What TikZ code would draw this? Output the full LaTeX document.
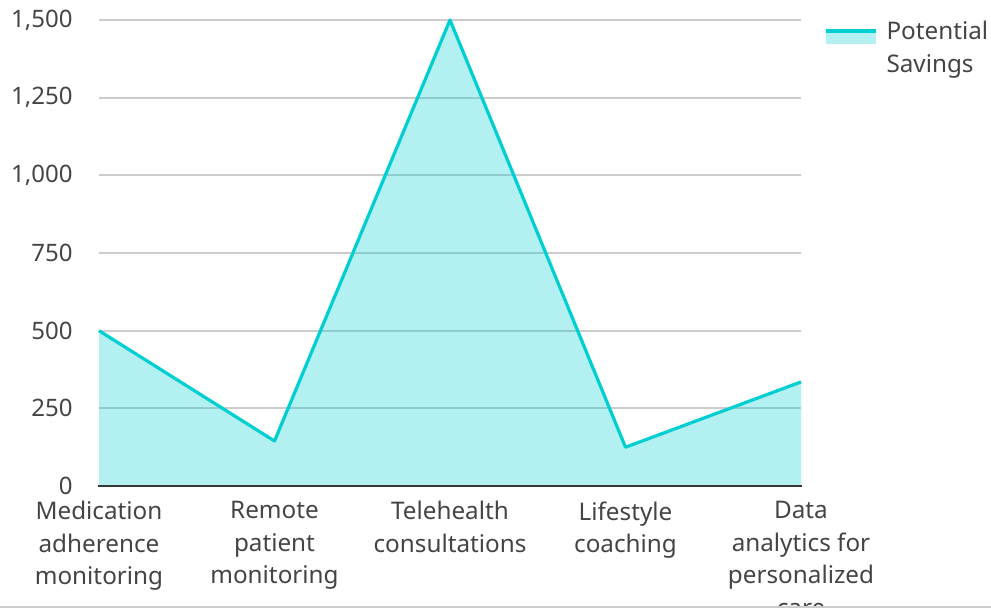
\documentclass[tikz,border=0pt]{standalone}
\usepackage{fontspec}
\setmainfont{Noto Sans}
\definecolor{savline}{RGB}{0,206,209}
\definecolor{savfill}{RGB}{178,240,241}
\definecolor{gridgray}{RGB}{204,204,204}
\definecolor{txtgray}{RGB}{68,68,68}
\tikzset{every picture/.style={line width=0.75pt}}
\tikzset{
  gridline/.style={draw=gridgray, line width=1.3pt},
  ticklabel/.style={anchor=east, inner sep=0pt, text=txtgray, font=\fontsize{18}{24.3}\selectfont},
  catlabel/.style={anchor=north, inner sep=0pt, align=center, text=txtgray, font=\fontsize{18.2}{24.3}\selectfont},
}

\begin{document}
\begin{tikzpicture}[x=0.75pt,y=0.75pt,yscale=-1,xscale=1]
\useasboundingbox (0,0) rectangle (991,611);

%Straight Lines [grid]
\draw [gridline] (99,20) -- (801,20) ;
\draw [gridline] (99,97.7) -- (801,97.7) ;
\draw [gridline] (99,175.3) -- (801,175.3) ;
\draw [gridline] (99,253) -- (801,253) ;
\draw [gridline] (99,330.7) -- (801,330.7) ;
\draw [gridline] (99,408.3) -- (801,408.3) ;

%Data points
\coordinate (med) at (99,330.7);
\coordinate (rem) at (274.5,441);
\coordinate (tel) at (450,20);
\coordinate (lif) at (625.5,447.2);
\coordinate (dat) at (801,381.9);
\coordinate (base0) at (99,486);
\coordinate (base1) at (801,486);

%Shape: Area
\fill [savline, fill opacity=0.3] (base0) -- (med) -- (rem) -- (tel) -- (lif) -- (dat) -- (base1) -- cycle ;
%Straight Lines [data]
\draw [savline, line width=2.4pt, line join=round] (med) -- (rem) -- (tel) -- (lif) -- (dat) ;

%Straight Lines [axis]
\draw [color=txtgray!80!black, line width=1.6pt] (98,486) -- (802,486) ;

% Text Node
\node [ticklabel] (t1500) at (73,20) {1,500};
\node [ticklabel] (t1250) at (73,97.7) {1,250};
\node [ticklabel] (t1000) at (73,175.3) {1,000};
\node [ticklabel] (t750) at (73,253) {750};
\node [ticklabel] (t500) at (73,330.7) {500};
\node [ticklabel] (t250) at (73,408.3) {250};
\node [ticklabel] (t0) at (73,486) {0};

% Text Node
\node [catlabel] (lmed) at (99,501) {Medication\\adherence\\monitoring};
\node [catlabel] (lrem) at (274.5,501) {Remote\\patient\\monitoring};
\node [catlabel] (ltel) at (450,501) {Telehealth\\consultations};
\node [catlabel] (llif) at (625.5,501) {Lifestyle\\coaching};
\node [catlabel] (ldat) at (801,501) {Data\\analytics for\\personalized\\care};

%Legend
\fill [savfill] (826,32.5) rectangle (876,43.5) ;
\draw [savline, line width=2.4pt] (826,31) -- (876,31) ;
\node [catlabel, anchor=north west, align=left] (leg) at (886,21) {Potential\\Savings};

%Bottom border
\fill [white] (0,607) rectangle (991,615) ;
\draw [color=gridgray, line width=1.5pt] (0,607) -- (991,607) ;

\end{tikzpicture}
\end{document}
